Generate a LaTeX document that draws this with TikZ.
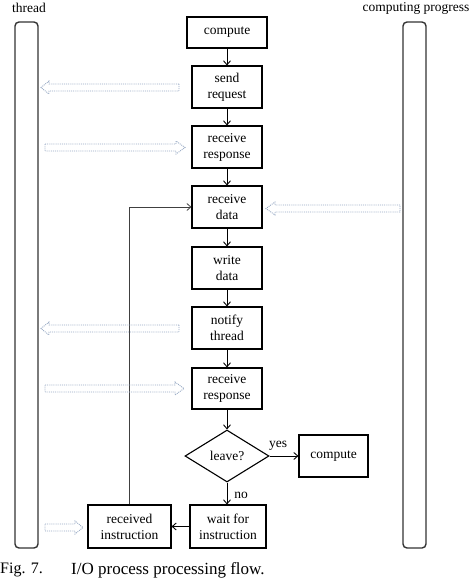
\documentclass[tikz,border=0pt]{standalone}
\usepackage{fontspec}
\setmainfont{Liberation Serif}
\usetikzlibrary{shapes.geometric,arrows.meta}
\definecolor{harrowc}{RGB}{150,168,195}
\tikzset{
  box/.style={draw=black, line width=1.1pt, minimum width=70pt, minimum height=42pt, inner sep=1pt, align=center, font=\fontsize{13.5}{16}\selectfont},
  bar/.style={draw=black!80, line width=1.4pt, rounded corners=4pt},
  flow/.style={draw=black, line width=0.9pt, -{Straight Barb[length=4pt,width=7pt]}},
  harrow/.style={draw=harrowc, line width=0.9pt, densely dotted},
  lbl/.style={font=\fontsize{13.5}{16}\selectfont, inner sep=0pt}
}
\begin{document}
\begin{tikzpicture}[x=1pt,y=-1pt]
\useasboundingbox (0,0) rectangle (474,579);
% bars
\draw[bar] (15,22) rectangle (38,548);
\draw[bar] (403,22) rectangle (426,548);
\node[lbl] (tl) at (29,8) {thread};
\node[lbl] (cl) at (416,8) {computing progress};
% boxes
\node[box, minimum width=80pt, minimum height=31pt] (c1) at (227,32.5) {compute};
\node[box] (sr) at (227,87) {send\\request};
\node[box] (rr1) at (227,147) {receive\\response};
\node[box] (rd) at (227,207) {receive\\data};
\node[box] (wd) at (227,268) {write\\data};
\node[box] (nt) at (227,328) {notify\\thread};
\node[box, minimum height=41pt] (rr2) at (227,388.5) {receive\\response};
\node[draw=black, line width=1.1pt, diamond, aspect=1.6, minimum width=84pt, minimum height=52pt, inner sep=0pt, font=\fontsize{13.5}{16}\selectfont] (lv) at (227,456) {leave?};
\node[box, minimum width=69pt] (c2) at (333.5,456) {compute};
\node[box, minimum width=76pt, minimum height=43pt] (wi) at (228,526.5) {wait for\\instruction};
\node[box, minimum width=83pt, minimum height=43pt] (ri) at (129.5,526.5) {received\\instruction};
% flow arrows
\draw[flow] (c1) -- (sr);
\draw[flow] (sr) -- (rr1);
\draw[flow] (rr1) -- (rd);
\draw[flow] (rd) -- (wd);
\draw[flow] (wd) -- (nt);
\draw[flow] (nt) -- (rr2);
\draw[flow] (rr2) -- (lv);
\draw[flow] (lv.east) -- node[lbl, above, pos=0.3, yshift=5pt] {yes} (c2.west);
\draw[flow] (lv.south) -- node[lbl, right, xshift=7pt, yshift=-2pt] {no} (lv.south |- wi.north);
\draw[flow] (wi.west) -- (ri.east);
\draw[draw=black!75, line width=0.8pt, -{Straight Barb[length=4pt,width=7pt]}] (ri.north) -- (ri.north |- rd.west) -- (rd.west);
% hollow dotted arrows
\draw[harrow] (179,84) -- (49,84) -- (49,81) -- (41,87.5) -- (49,94) -- (49,91) -- (179,91) -- cycle;
\draw[harrow] (45,144) -- (176,144) -- (176,141) -- (185,147.5) -- (176,154) -- (176,151) -- (45,151) -- cycle;
\draw[harrow] (400,205) -- (275,205) -- (275,202) -- (266,208.5) -- (275,215) -- (275,212) -- (400,212) -- cycle;
\draw[harrow] (179,325) -- (49,325) -- (49,322) -- (41,328.5) -- (49,335) -- (49,332) -- (179,332) -- cycle;
\draw[harrow] (45,385) -- (175,385) -- (175,382) -- (184,388.5) -- (175,395) -- (175,392) -- (45,392) -- cycle;
\draw[harrow] (45,524) -- (75,524) -- (75,521) -- (83,527.5) -- (75,534) -- (75,531) -- (45,531) -- cycle;
% caption
\node[anchor=west, inner sep=0pt, font=\fontsize{16}{19}\selectfont] (f7) at (0,570) {Fig. 7.};
\node[anchor=west, inner sep=0pt, font=\fontsize{17}{20}\selectfont] (cap) at (71,570) {I/O process processing flow.};
\end{tikzpicture}
\end{document}
